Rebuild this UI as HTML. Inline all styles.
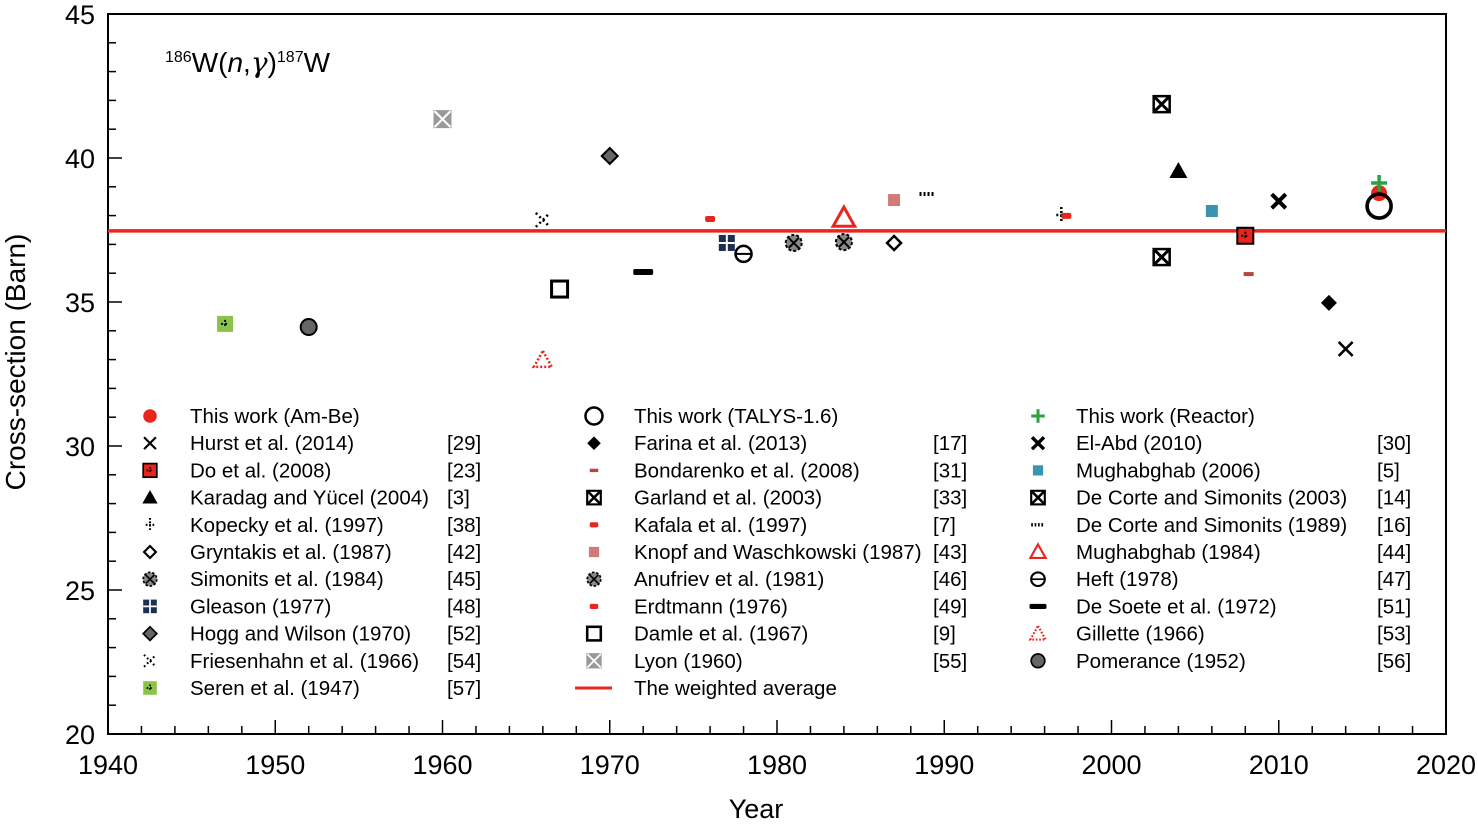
<!DOCTYPE html>
<html><head><meta charset="utf-8"><style>
body{margin:0;background:#fff}
svg{font-family:"Liberation Sans",sans-serif}
</style></head><body>
<svg id="chart" width="1478" height="825" viewBox="0 0 1478 825" xmlns="http://www.w3.org/2000/svg">
<rect x="108" y="14" width="1338" height="720" fill="none" stroke="#000" stroke-width="2"/>
<g id="axes"></g>
<line id="avg" x1="108" x2="1446" stroke="#e8261e" stroke-width="3.5"/>
<g id="marks"></g>
<g id="legend"></g>
<text x="165" y="72" font-size="28"><tspan font-size="16" dy="-10">186</tspan><tspan dy="10">W(</tspan><tspan font-style="italic">n</tspan>,<tspan font-family="DejaVu Serif" font-style="italic">γ</tspan>)<tspan font-size="16" dy="-10">187</tspan><tspan dy="10">W</tspan></text>
<text transform="translate(25,362) rotate(-90)" text-anchor="middle" font-size="28">Cross-section (Barn)</text>
<text x="756" y="818" text-anchor="middle" font-size="27">Year</text>
</svg>
<script>
const xTicks=[1940,1950,1960,1970,1980,1990,2000,2010,2020];
const yTicks=[20,25,30,35,40,45];
const avgValue=37.47;
const names=["This work (Am-Be)","This work (TALYS-1.6)","This work (Reactor)","Hurst et al. (2014)","Farina et al. (2013)","El-Abd (2010)","Do et al. (2008)","Bondarenko et al. (2008)","Mughabghab (2006)","Karadag and Yücel (2004)","Garland et al. (2003)","De Corte and Simonits (2003)","Kopecky et al. (1997)","Kafala et al. (1997)","De Corte and Simonits (1989)","Gryntakis et al. (1987)","Knopf and Waschkowski (1987)","Mughabghab (1984)","Simonits et al. (1984)","Anufriev et al. (1981)","Heft (1978)","Gleason (1977)","Erdtmann (1976)","De Soete et al. (1972)","Hogg and Wilson (1970)","Damle et al. (1967)","Gillette (1966)","Friesenhahn et al. (1966)","Lyon (1960)","Pomerance (1952)","Seren et al. (1947)"];
const refs=["","","","[29]","[17]","[30]","[23]","[31]","[5]","[3]","[33]","[14]","[38]","[7]","[16]","[42]","[43]","[44]","[45]","[46]","[47]","[48]","[49]","[51]","[52]","[9]","[53]","[54]","[55]","[56]","[57]"];
const years=[2016,2016,2016,2014,2013,2010,2008,2008.2,2006,2004,2003,2003,1997,1997.3,1989,1987,1987,1984,1984,1981,1978,1977,1976,1972,1970,1967,1966,1966,1960,1952,1947];
const values=[38.78,38.33,39.13,33.37,34.97,38.5,37.3,35.97,38.16,39.55,36.56,41.87,38.02,37.99,38.75,37.05,38.54,37.92,37.08,37.05,36.67,37.05,37.88,36.04,40.07,35.45,32.99,37.85,41.35,34.13,34.24];
const markers=["redDot","openCircle","greenPlus","cross","diamond","boldX","redSq","dash","teal","tri","xbox","xbox","smallPlus","redDash","dots","openDiamond","pink","openTri","checker","checker","heft","bluePlus","redDash","blackDash","greyDiamond","openSq","dotTri","dotsX","lyon","greyCircle","greenSq"];
const sizes=[1,1.2,1,1,1,1,1,1,1,1,1,1,1,1,1,1,1,1.2,1,1,1,1,1,1,1,1,1,1,1,1,1];
const legendOrder=[[0,3,6,9,12,15,18,21,24,27,30],[1,4,7,10,13,16,19,22,25,28,-1],[2,5,8,11,14,17,20,23,26,29]];
const NS="http://www.w3.org/2000/svg";
const X=v=>108+(v-1940)*1338/80, Y=v=>14+(45-v)*720/25;
function el(t,a,p){const e=document.createElementNS(NS,t);for(const k in a)e.setAttribute(k,a[k]);p.appendChild(e);return e;}
const ax=document.getElementById('axes');
for(let yr=1942;yr<2020;yr+=2){const t=el('line',{x1:X(yr),x2:X(yr),y1:734,y2:yr%10?726:720,stroke:'#000','stroke-width':1.5},ax);

}
for(let v=21;v<45;v++){const t=el('line',{x1:108,x2:v%5?116:122,y1:Y(v),y2:Y(v),stroke:'#000','stroke-width':1.5},ax);

}
xTicks.forEach(v=>{const t=el('text',{x:X(v),y:774,'text-anchor':'middle','font-size':27},ax);t.textContent=v;

});
yTicks.forEach(v=>{const t=el('text',{x:95,y:Y(v)+10,'text-anchor':'end','font-size':27},ax);t.textContent=v;

});
const avg=document.getElementById('avg');avg.setAttribute('y1',Y(avgValue));avg.setAttribute('y2',Y(avgValue));
function drawMarker(type,x,y,s,p){
 const g=el('g',{transform:`translate(${x},${y}) scale(${s})`},p);
 const k='#000';
 switch(type){
 case'redDot':el('circle',{r:8,fill:'#e8261e'},g);break;
 case'openCircle':el('circle',{r:10,fill:'none',stroke:k,'stroke-width':3},g);break;
 case'greenPlus':el('path',{d:'M-8 0H8M0-8V8',stroke:'#2ea043','stroke-width':3.5},g);break;
 case'cross':el('path',{d:'M-7-7L7 7M-7 7L7-7',stroke:k,'stroke-width':2.5},g);break;
 case'boldX':el('path',{d:'M-7-7L7 7M-7 7L7-7',stroke:k,'stroke-width':4},g);break;
 case'diamond':el('path',{d:'M0-8L8 0L0 8L-8 0Z',fill:k},g);break;
 case'greyDiamond':el('path',{d:'M0-8L8 0L0 8L-8 0Z',fill:'#666',stroke:k,'stroke-width':2},g);break;
 case'openDiamond':el('path',{d:'M0-7L7 0L0 7L-7 0Z',fill:'none',stroke:k,'stroke-width':2.5},g);break;
 case'redSq':el('rect',{x:-8,y:-8,width:16,height:16,fill:'#e8261e',stroke:k,'stroke-width':2},g);el('path',{d:'M-4 0H4M0-4V4',stroke:k,'stroke-width':2,'stroke-dasharray':'2 2'},g);break;
 case'dash':el('rect',{x:-5,y:-2,width:10,height:4,fill:'#b5473f'},g);break;
 case'redDash':el('rect',{x:-5,y:-3,width:10,height:6,rx:2,fill:'#e8261e'},g);break;
 case'blackDash':el('rect',{x:-10,y:-3,width:20,height:6,rx:2,fill:k},g);break;
 case'teal':el('rect',{x:-6,y:-6,width:12,height:12,fill:'#3a94b0'},g);break;
 case'pink':el('rect',{x:-6,y:-6,width:12,height:12,fill:'#d07b78'},g);break;
 case'tri':el('path',{d:'M0-9L9 7H-9Z',fill:k},g);break;
 case'openTri':el('path',{d:'M0-9L9 7H-9Z',fill:'none',stroke:'#e8261e','stroke-width':2.5},g);break;
 case'dotTri':el('path',{d:'M0-9L9 7H-9Z',fill:'none',stroke:'#e8261e','stroke-width':2.5,'stroke-dasharray':'2 2'},g);break;
 case'xbox':el('rect',{x:-8,y:-8,width:16,height:16,fill:'#fff',stroke:k,'stroke-width':2.5},g);el('path',{d:'M-8-8L8 8M-8 8L8-8',stroke:k,'stroke-width':3},g);break;
 case'lyon':el('rect',{x:-9,y:-9,width:18,height:18,fill:'#999'},g);el('path',{d:'M-8-8L8 8M-8 8L8-8',stroke:'#fff','stroke-width':2},g);break;
 case'checker':el('circle',{r:8,fill:'#888',stroke:k,'stroke-width':2,'stroke-dasharray':'3 2'},g);el('path',{d:'M-5-5L5 5M-5 5L5-5',stroke:k,'stroke-width':2},g);break;
 case'smallPlus':el('path',{d:'M-5 0H5M0-8V8',stroke:k,'stroke-width':2.5,'stroke-dasharray':'2 2'},g);break;
 case'dots':el('path',{d:'M-8 0H8',stroke:k,'stroke-width':4,'stroke-dasharray':'2 2'},g);break;
 case'dotsX':el('path',{d:'M-7-7L7 7M-7 7L7-7',stroke:k,'stroke-width':2.5,'stroke-dasharray':'2 3'},g);break;
 case'heft':el('circle',{r:8,fill:'#fff',stroke:k,'stroke-width':2.5},g);el('path',{d:'M-7 0H7',stroke:k,'stroke-width':2},g);break;
 case'bluePlus':el('rect',{x:-8,y:-8,width:16,height:16,fill:'#1a2f52'},g);el('path',{d:'M-8 0H8M0-8V8',stroke:'#fff','stroke-width':2},g);break;
 case'openSq':el('rect',{x:-8,y:-8,width:16,height:16,fill:'#fff',stroke:k,'stroke-width':3},g);break;
 case'greyCircle':el('circle',{r:8,fill:'#666',stroke:k,'stroke-width':2},g);break;
 case'greenSq':el('rect',{x:-8,y:-8,width:16,height:16,fill:'#8bc34a'},g);el('path',{d:'M-4 0H4M0-4V4',stroke:'#000','stroke-width':2,'stroke-dasharray':'2 2'},g);break;
 }
 return g;
}
const mk=document.getElementById('marks');
years.forEach((yr,i)=>{const g=drawMarker(markers[i],X(yr),Y(values[i]),sizes[i],mk);

});
const lg=document.getElementById('legend');
const colX=[150,594,1038],textX=[190,634,1076],refX=[447,933,1377];
legendOrder.forEach((col,c)=>col.forEach((idx,r)=>{
 const y=416+r*27.2;
 let g;
 if(idx<0){g=el('g',{},lg);el('line',{x1:575,x2:612,y1:y,y2:y,stroke:'#e8261e','stroke-width':3},g);
  const t=el('text',{x:textX[c],y:y+7,'font-size':20.5},g);t.textContent='The weighted average';}
 else{g=el('g',{},lg);drawMarker(markers[idx],colX[c],y,0.85,g);
  const t=el('text',{x:textX[c],y:y+7,'font-size':20.5},g);t.textContent=names[idx];
  if(refs[idx]){const r2=el('text',{x:refX[c],y:y+7,'font-size':20.5},g);r2.textContent=refs[idx];}}
 
 
}));
</script>
</body></html>
